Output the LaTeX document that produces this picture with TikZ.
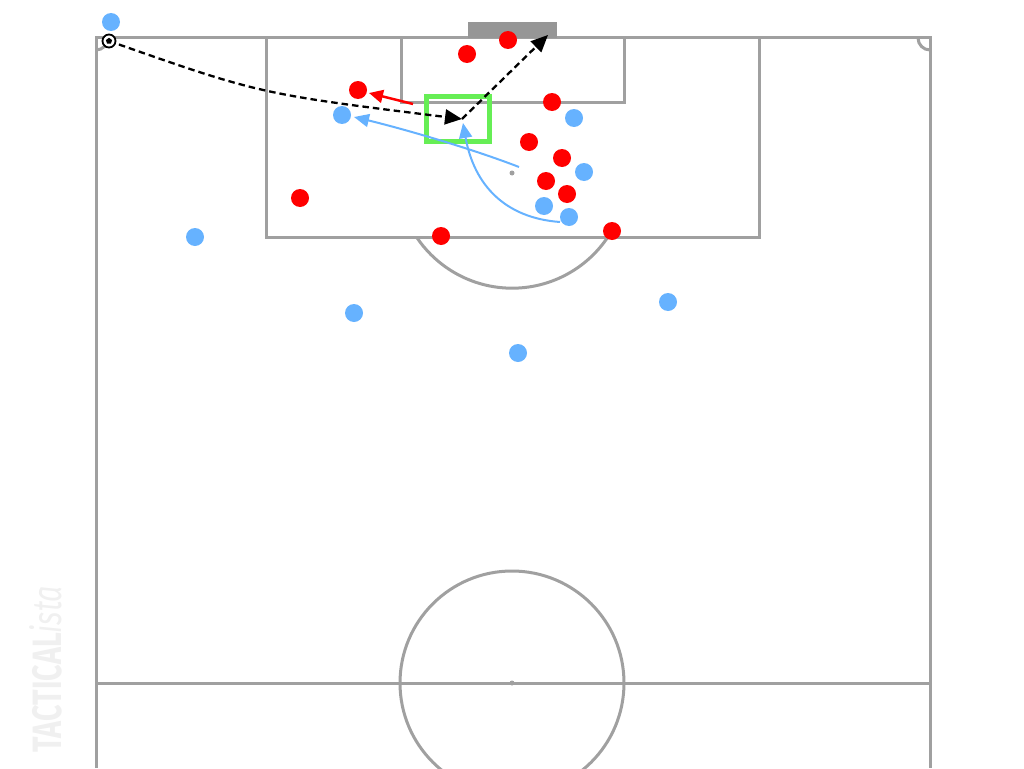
\documentclass[tikz,border=0pt]{standalone}
\usepackage{fontspec}
\setsansfont{Fira Sans}
\usetikzlibrary{arrows.meta}
\definecolor{pitch}{RGB}{160,160,160}
\definecolor{goalc}{RGB}{150,150,150}
\definecolor{blueP}{RGB}{102,178,255}
\definecolor{redP}{RGB}{255,0,0}
\definecolor{hl}{RGB}{102,238,85}
\definecolor{wm}{RGB}{240,240,240}
\begin{document}
\begin{tikzpicture}[x=1pt,y=-1pt,
  pline/.style={draw=pitch,line width=3pt},
  bp/.style={circle,fill=blueP,minimum size=18pt,inner sep=0pt},
  rp/.style={circle,fill=redP,minimum size=18pt,inner sep=0pt},
  spotc/.style={circle,fill=pitch,minimum size=5pt,inner sep=0pt},
  passline/.style={draw=black,line width=2.3pt,dash pattern=on 6.5pt off 4pt,-{Triangle[length=17pt,width=15pt]}},
  runblue/.style={draw=blueP,line width=2pt,-{Triangle[length=15pt,width=13pt]}},
  runred/.style={draw=redP,line width=2.5pt,-{Triangle[length=14pt,width=13pt]}},
]
\useasboundingbox (0,0) rectangle (1024,768);
\clip (0,0) rectangle (1024,768);
% watermark
\node[rotate=90,text=wm,font=\sffamily\fontsize{41}{41}\selectfont,inner sep=0pt] (wmark) at (46,669)
  {\scalebox{0.7}[1]{\bfseries TACTICAL\textit{\mdseries ista}}};
% pitch
\draw[pline] (96,768) -- (96,38) -- (930,38) -- (930,768);
\draw[pline] (96,683) -- (930,683);
\draw[pline] (266,38) -- (266,237) -- (759,237) -- (759,38);
\draw[pline] (401,38) -- (401,102) -- (624,102) -- (624,38);
\fill[goalc] (468,22) rectangle (557,38);
\node[spotc] (pspot) at (512,173) {};
\node[spotc] (cspot) at (512,683) {};
\draw[pline] (512,683) circle[radius=112];
\draw[pline] (416.5,237) arc[start angle=146.3,end angle=33.7,radius=115];
\draw[pline] (96,50) arc[start angle=90,end angle=0,radius=12];
\draw[pline] (918,38) arc[start angle=180,end angle=90,radius=12];
% highlight
\draw[draw=hl,line width=5pt] (426,96) rectangle (489,141);
% coordinates
\coordinate (bstart) at (109,41);
\coordinate (target) at (462,119);
\coordinate (goalpt) at (548,35);
\coordinate (redfrom) at (413,104);
\coordinate (redto) at (369,93);
\coordinate (blfrom) at (519,167);
\coordinate (blto) at (354,117);
\coordinate (b2from) at (560,222);
\coordinate (b2to) at (463,123);
% runs
\draw[runblue] (blfrom) .. controls (470,148) and (400,128) .. (blto);
\draw[runblue] (b2from) .. controls (505,218) and (474,185) .. (b2to);
\draw[runred] (redfrom) -- (redto);
% passes
\draw[passline] (bstart) .. controls (260,94) .. (target);
\draw[passline] (target) -- (goalpt);
% players
\foreach \n/\x/\y in {b1/111/22, b2/342/115, b3/574/118, b4/584/172, b5/544/206, b6/569/217, b7/195/237, b8/354/313, b9/668/302, b10/518/353}
  \node[bp] (\n) at (\x,\y) {};
\foreach \n/\x/\y in {r1/467/54, r2/508/40, r3/358/90, r4/552/102, r5/529/142, r6/562/158, r7/546/181, r8/567/194, r9/300/198, r10/441/236, r11/612/231}
  \node[rp] (\n) at (\x,\y) {};
% ball
\node[circle,draw=black,fill=white,line width=1.8pt,minimum size=13pt,inner sep=0pt] (ball) at (109,41) {};
\fill[black] (109,37.8) -- (112.1,40.1) -- (110.9,43.7) -- (107.1,43.7) -- (105.9,40.1) -- cycle;
\end{tikzpicture}
\end{document}
